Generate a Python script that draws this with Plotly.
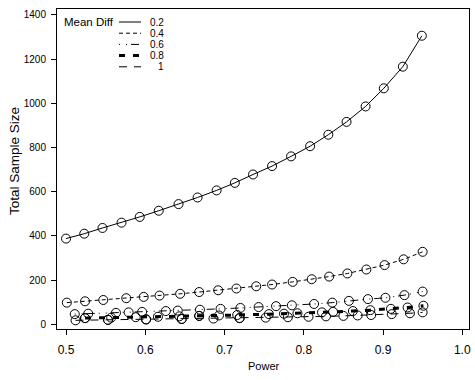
import plotly.graph_objects as go

# ---------------- data ----------------
mean_diffs = ["0.2", "0.4", "0.6", "0.8", "1"]

power_02 = [0.500, 0.523, 0.546, 0.570, 0.593, 0.617, 0.642, 0.666, 0.690, 0.713,
            0.736, 0.760, 0.784, 0.808, 0.831, 0.854, 0.878, 0.901, 0.925, 0.949]
n_02 = [388, 410, 436, 460, 486, 514, 544, 574, 606, 640,
        678, 716, 760, 806, 858, 916, 986, 1068, 1166, 1306]

power_04 = [0.501, 0.524, 0.547, 0.576, 0.598, 0.618, 0.644, 0.668, 0.692, 0.715,
            0.740, 0.760, 0.786, 0.810, 0.832, 0.855, 0.879, 0.902, 0.926, 0.950]
n_04 = [98, 104, 110, 118, 124, 130, 138, 146, 154, 162,
        172, 180, 192, 204, 216, 230, 248, 268, 294, 328]

power_06 = [0.511, 0.528, 0.563, 0.579, 0.596, 0.626, 0.641, 0.669, 0.695, 0.720,
            0.743, 0.765, 0.785, 0.813, 0.836, 0.857, 0.881, 0.903, 0.927, 0.950]
n_06 = [46, 48, 52, 54, 56, 60, 62, 66, 70, 74,
        78, 82, 86, 92, 98, 106, 114, 120, 132, 148]

power_08 = [0.524, 0.524, 0.557, 0.588, 0.616, 0.643, 0.668, 0.668, 0.693, 0.716,
            0.756, 0.775, 0.792, 0.823, 0.837, 0.862, 0.884, 0.910, 0.931, 0.951]
n_08 = [28, 28, 30, 32, 34, 36, 38, 38, 40, 42,
        46, 48, 50, 54, 56, 60, 64, 70, 76, 84]

power_10 = [0.512, 0.553, 0.553, 0.601, 0.601, 0.646, 0.646, 0.686, 0.719, 0.719,
            0.752, 0.780, 0.806, 0.828, 0.850, 0.868, 0.885, 0.911, 0.934, 0.950]
n_10 = [18, 20, 20, 22, 22, 24, 24, 26, 28, 28,
        30, 32, 34, 36, 38, 40, 42, 46, 50, 54]

x_tick_vals = [0.5, 0.6, 0.7, 0.8, 0.9, 1.0]
x_tick_text = ["0.5", "0.6", "0.7", "0.8", "0.9", "1.0"]
y_tick_vals = [0, 200, 400, 600, 800, 1000, 1200, 1400]
y_tick_text = ["0", "200", "400", "600", "800", "1000", "1200", "1400"]

# ---------------- styles ----------------
styles = {
    "0.2": dict(dash="solid", width=1),
    "0.4": dict(dash="4px,3px", width=1),
    "0.6": dict(dash="1px,6px,1px,4px,8px,4px", width=1),
    "0.8": dict(dash="6px,8px", width=3),
    "1": dict(dash="8px,7px", width=1),
}
series = [
    ("0.2", power_02, n_02),
    ("0.4", power_04, n_04),
    ("0.6", power_06, n_06),
    ("0.8", power_08, n_08),
    ("1", power_10, n_10),
]

FONT = "Liberation Sans, Arial, Helvetica, sans-serif"
W, H = 475, 380
L, R, T, B = 57, 6, 9, 51
PW, PH = W - L - R, H - T - B


def xp(px):
    return (px - L) / PW


def yp(py):
    return (H - B - py) / PH


fig = go.Figure()
for label, pw, nn in series:
    st = styles[label]
    fig.add_trace(go.Scatter(
        x=pw, y=nn, name=label, mode="lines+markers", showlegend=False,
        line=dict(color="black", width=st["width"], dash=st["dash"]),
        marker=dict(symbol="circle-open", size=9, color="black",
                    line=dict(width=1, color="black")),
    ))

# ---------------- hand-made legend ----------------
shapes = []
annotations = []
row_y = [22, 33.2, 44.4, 55.6, 66.8]
annotations.append(dict(text="Mean Diff", xref="paper", yref="paper",
                        x=xp(62), y=yp(row_y[0]), xanchor="left", yanchor="middle",
                        showarrow=False, font=dict(size=11.5, family=FONT, color="black")))
for i, label in enumerate(mean_diffs):
    st = styles[label]
    shapes.append(dict(type="line", xref="paper", yref="paper",
                       x0=xp(119), x1=xp(141), y0=yp(row_y[i]), y1=yp(row_y[i]),
                       line=dict(color="black", width=st["width"], dash=st["dash"])))
    annotations.append(dict(text=label, xref="paper", yref="paper",
                            x=xp(165), y=yp(row_y[i]), xanchor="right", yanchor="middle",
                            showarrow=False, borderpad=0,
                            font=dict(size=10, family=FONT, color="black")))

# axis titles
annotations.append(dict(text="Power", xref="paper", yref="paper",
                        x=xp(264), y=yp(366), xanchor="center", yanchor="middle",
                        showarrow=False, font=dict(size=11, family=FONT, color="black")))
annotations.append(dict(text="Total Sample Size", xref="paper", yref="paper",
                        x=xp(14), y=yp(161), xanchor="center", yanchor="middle",
                        textangle=-90, showarrow=False,
                        font=dict(size=13.5, family=FONT, color="black")))

fig.update_layout(
    width=W, height=H,
    margin=dict(l=L, r=R, t=T, b=B, pad=0, autoexpand=False),
    paper_bgcolor="white", plot_bgcolor="white",
    font=dict(family=FONT, color="black", size=12),
    shapes=shapes, annotations=annotations,
    showlegend=False,
)
fig.update_xaxes(
    range=[0.4886, 1.0085], tickvals=x_tick_vals, ticktext=x_tick_text,
    ticks="outside", ticklen=5, tickwidth=1, tickcolor="black",
    showline=True, linecolor="black", linewidth=1, mirror=True,
    showgrid=False, zeroline=False, tickfont=dict(size=12, family=FONT),
    ticklabelstandoff=5, automargin=False,
)
fig.update_yaxes(
    range=[-21.3, 1427], tickvals=y_tick_vals, ticktext=y_tick_text,
    ticks="outside", ticklen=5, tickwidth=1, tickcolor="black",
    showline=True, linecolor="black", linewidth=1, mirror=True,
    showgrid=False, zeroline=False, tickfont=dict(size=10, family=FONT),
    ticklabelstandoff=3, automargin=False,
)

fig.write_html("out.html",
               config={"displayModeBar": False, "staticPlot": True},
               post_script="document.body.style.margin='0px';"
                           "document.body.style.overflow='hidden';")
